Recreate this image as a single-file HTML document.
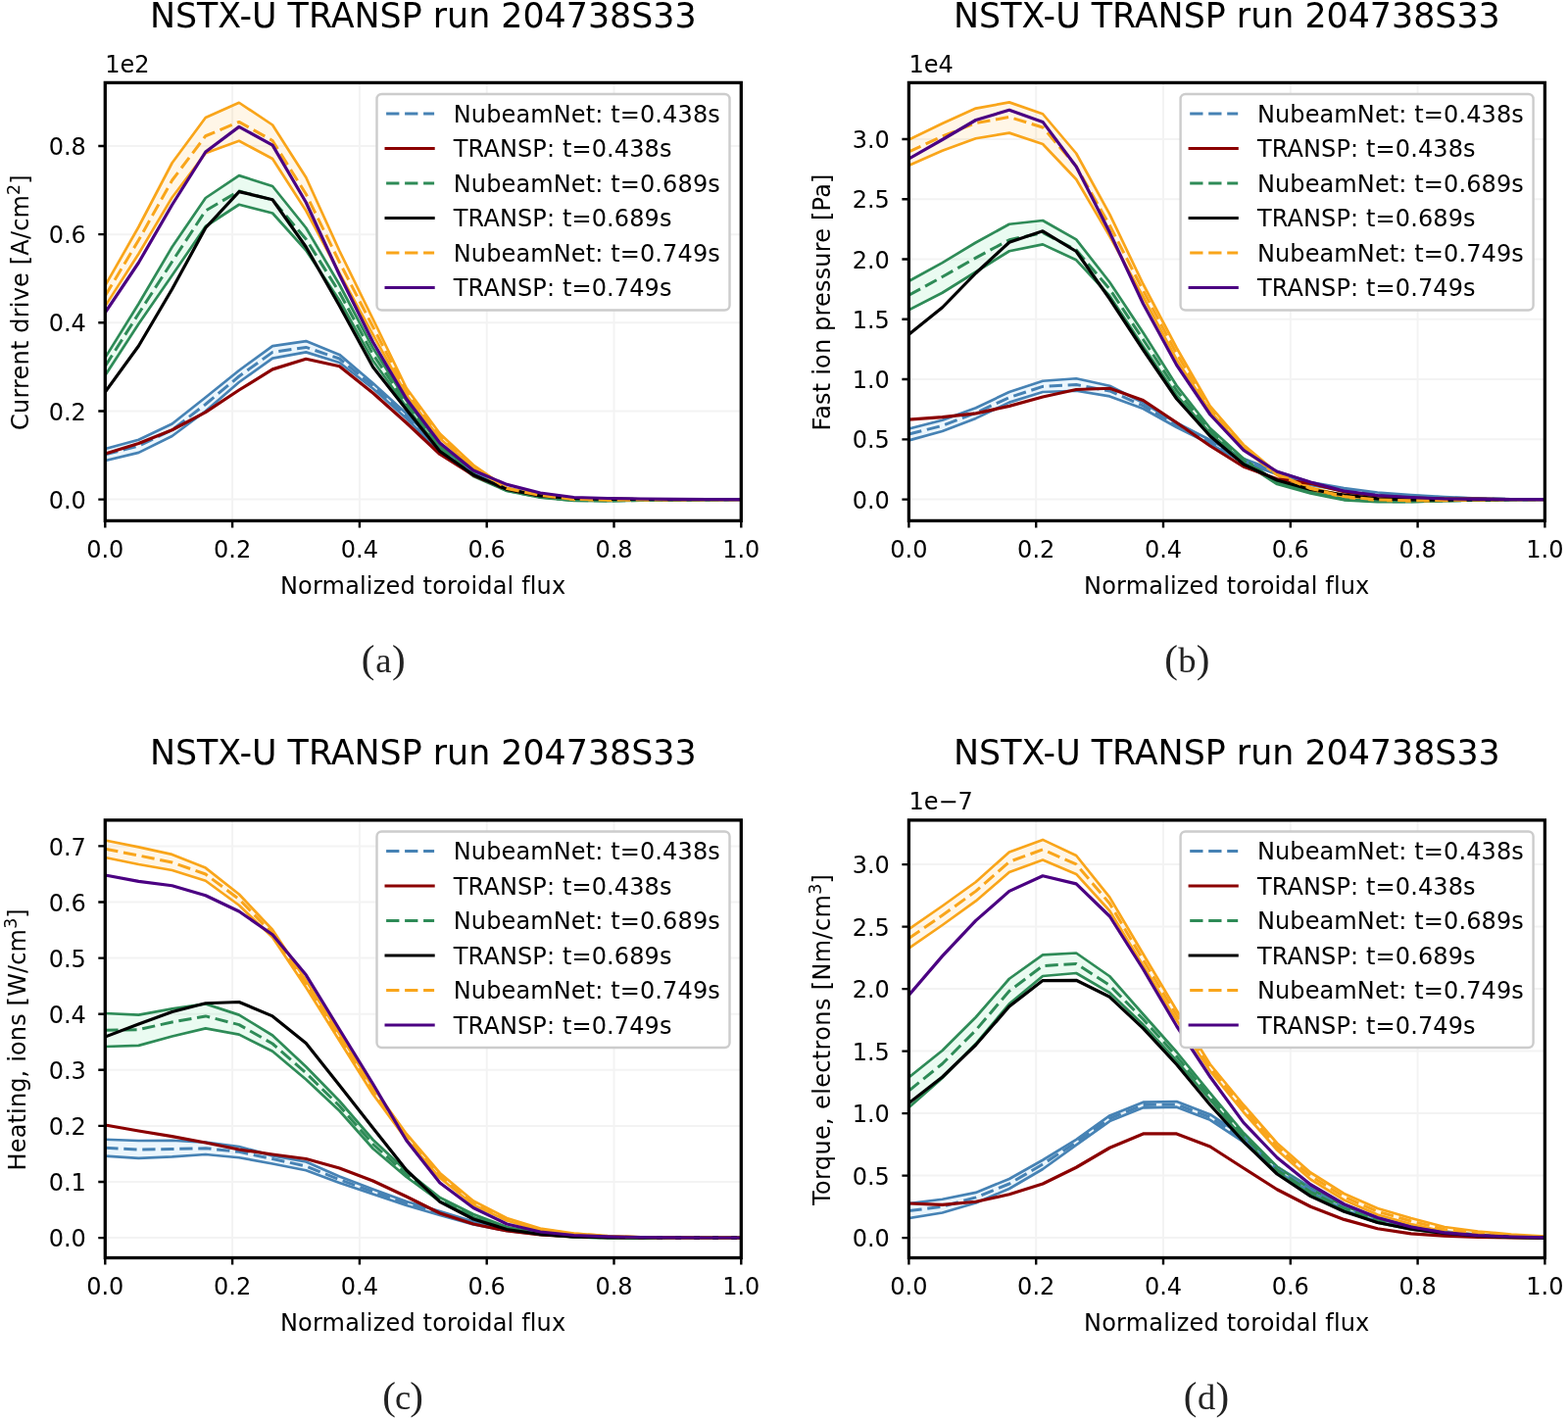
<!DOCTYPE html>
<html lang="en"><head><meta charset="utf-8"><title>NSTX-U TRANSP run 204738S33</title>
<style>
html,body{margin:0;padding:0;background:#fff;}
body{width:1600px;height:1449px;overflow:hidden;}
svg{display:block;}
svg text{font-family:"DejaVu Sans", "Liberation Sans", sans-serif;font-size:24px;fill:#000;font-variant-ligatures:none;font-feature-settings:"liga" 0,"clig" 0,"dlig" 0,"calt" 0;}
svg text.cap{font-family:"Liberation Serif","DejaVu Serif",serif;font-size:36.5px;fill:#222;}
svg text.cap .par{font-size:41px;}
</style></head><body>
<svg width="1600" height="1449" viewBox="0 0 1600 1449">
<rect width="1600" height="1449" fill="#fff"/>
<clipPath id="clip0"><rect x="107.30" y="84.40" width="649.00" height="447.00"/></clipPath>
<path d="M107.30 84.40V531.40M237.10 84.40V531.40M366.90 84.40V531.40M496.70 84.40V531.40M626.50 84.40V531.40M756.30 84.40V531.40M107.30 509.60H756.30M107.30 419.45H756.30M107.30 329.30H756.30M107.30 239.15H756.30M107.30 149.00H756.30" stroke="#f3f3f3" stroke-width="2.00" fill="none"/>
<g clip-path="url(#clip0)" fill="none" stroke-linejoin="round">
<polygon points="107.30,458.10 141.46,448.75 175.62,432.50 209.77,405.50 243.93,378.00 278.09,353.10 312.25,348.10 346.41,361.90 380.56,391.00 414.72,422.00 448.88,457.50 483.04,482.00 517.19,498.00 551.35,505.00 585.51,508.00 619.67,509.00 653.83,509.30 687.98,509.50 722.14,509.60 756.30,509.60 756.30,509.60 722.14,509.60 687.98,509.60 653.83,509.50 619.67,509.40 585.51,508.60 551.35,506.00 517.19,500.00 483.04,484.00 448.88,461.50 414.72,427.00 380.56,396.50 346.41,370.00 312.25,359.40 278.09,365.60 243.93,390.00 209.77,419.50 175.62,445.00 141.46,461.90 107.30,470.00" fill="rgb(70,170,240)" fill-opacity="0.11" stroke="none"/>
<polyline points="107.30,458.10 141.46,448.75 175.62,432.50 209.77,405.50 243.93,378.00 278.09,353.10 312.25,348.10 346.41,361.90 380.56,391.00 414.72,422.00 448.88,457.50 483.04,482.00 517.19,498.00 551.35,505.00 585.51,508.00 619.67,509.00 653.83,509.30 687.98,509.50 722.14,509.60 756.30,509.60" stroke="#4682b4" stroke-width="2.70" stroke-linecap="square"/>
<polyline points="107.30,470.00 141.46,461.90 175.62,445.00 209.77,419.50 243.93,390.00 278.09,365.60 312.25,359.40 346.41,370.00 380.56,396.50 414.72,427.00 448.88,461.50 483.04,484.00 517.19,500.00 551.35,506.00 585.51,508.60 619.67,509.40 653.83,509.50 687.98,509.60 722.14,509.60 756.30,509.60" stroke="#4682b4" stroke-width="2.70" stroke-linecap="square"/>
<polygon points="107.30,365.00 141.46,310.00 175.62,252.00 209.77,202.00 243.93,179.10 278.09,190.00 312.25,232.50 346.41,290.50 380.56,355.00 414.72,408.70 448.88,454.50 483.04,483.00 517.19,500.00 551.35,507.00 585.51,510.30 619.67,510.80 653.83,510.40 687.98,510.00 722.14,509.80 756.30,509.60 756.30,509.60 722.14,509.80 687.98,510.00 653.83,510.60 619.67,511.20 585.51,511.00 551.35,507.60 517.19,501.00 483.04,486.00 448.88,458.50 414.72,415.30 380.56,368.00 346.41,306.50 312.25,255.50 278.09,217.50 243.93,208.75 209.77,231.00 175.62,281.00 141.46,330.50 107.30,383.10" fill="rgb(60,220,130)" fill-opacity="0.11" stroke="none"/>
<polyline points="107.30,365.00 141.46,310.00 175.62,252.00 209.77,202.00 243.93,179.10 278.09,190.00 312.25,232.50 346.41,290.50 380.56,355.00 414.72,408.70 448.88,454.50 483.04,483.00 517.19,500.00 551.35,507.00 585.51,510.30 619.67,510.80 653.83,510.40 687.98,510.00 722.14,509.80 756.30,509.60" stroke="#2e8b57" stroke-width="2.70" stroke-linecap="square"/>
<polyline points="107.30,383.10 141.46,330.50 175.62,281.00 209.77,231.00 243.93,208.75 278.09,217.50 312.25,255.50 346.41,306.50 380.56,368.00 414.72,415.30 448.88,458.50 483.04,486.00 517.19,501.00 551.35,507.60 585.51,511.00 619.67,511.20 653.83,510.60 687.98,510.00 722.14,509.80 756.30,509.60" stroke="#2e8b57" stroke-width="2.70" stroke-linecap="square"/>
<polygon points="107.30,291.50 141.46,231.50 175.62,166.25 209.77,120.00 243.93,104.75 278.09,127.50 312.25,181.00 346.41,256.00 380.56,325.50 414.72,396.00 448.88,442.50 483.04,474.50 517.19,498.00 551.35,505.00 585.51,509.00 619.67,510.00 653.83,510.00 687.98,509.80 722.14,509.70 756.30,509.60 756.30,509.60 722.14,509.70 687.98,509.80 653.83,510.00 619.67,510.40 585.51,509.80 551.35,506.00 517.19,499.00 483.04,477.50 448.88,447.50 414.72,403.00 380.56,341.50 346.41,279.00 312.25,215.00 278.09,162.00 243.93,143.75 209.77,156.25 175.62,201.50 141.46,259.00 107.30,312.50" fill="rgb(255,170,40)" fill-opacity="0.11" stroke="none"/>
<polyline points="107.30,291.50 141.46,231.50 175.62,166.25 209.77,120.00 243.93,104.75 278.09,127.50 312.25,181.00 346.41,256.00 380.56,325.50 414.72,396.00 448.88,442.50 483.04,474.50 517.19,498.00 551.35,505.00 585.51,509.00 619.67,510.00 653.83,510.00 687.98,509.80 722.14,509.70 756.30,509.60" stroke="#f9a51a" stroke-width="2.70" stroke-linecap="square"/>
<polyline points="107.30,312.50 141.46,259.00 175.62,201.50 209.77,156.25 243.93,143.75 278.09,162.00 312.25,215.00 346.41,279.00 380.56,341.50 414.72,403.00 448.88,447.50 483.04,477.50 517.19,499.00 551.35,506.00 585.51,509.80 619.67,510.40 653.83,510.00 687.98,509.80 722.14,509.70 756.30,509.60" stroke="#f9a51a" stroke-width="2.70" stroke-linecap="square"/>
<polyline points="107.30,463.75 141.46,455.00 175.62,438.75 209.77,412.50 243.93,384.00 278.09,359.40 312.25,354.40 346.41,366.00 380.56,393.70 414.72,424.50 448.88,459.50 483.04,483.00 517.19,499.00 551.35,505.50 585.51,508.30 619.67,509.20 653.83,509.40 687.98,509.50 722.14,509.60 756.30,509.60" stroke="#4682b4" stroke-width="3.00" stroke-dasharray="13.30 5.70"/>
<polyline points="107.30,463.10 141.46,452.50 175.62,438.75 209.77,420.60 243.93,398.00 278.09,376.90 312.25,366.25 346.41,373.75 380.56,401.00 414.72,431.50 448.88,463.50 483.04,485.00 517.19,499.50 551.35,506.00 585.51,508.50 619.67,509.20 653.83,509.50 687.98,509.60 722.14,509.60 756.30,509.60" stroke="#8b0000" stroke-width="3.20" stroke-linecap="square"/>
<polyline points="107.30,373.75 141.46,320.00 175.62,267.00 209.77,215.00 243.93,195.00 278.09,204.00 312.25,244.00 346.41,298.50 380.56,361.50 414.72,412.00 448.88,456.50 483.04,484.50 517.19,500.50 551.35,507.30 585.51,510.60 619.67,511.00 653.83,510.50 687.98,510.00 722.14,509.80 756.30,509.60" stroke="#2e8b57" stroke-width="3.00" stroke-dasharray="13.30 5.70"/>
<polyline points="107.30,400.00 141.46,353.00 175.62,295.00 209.77,232.50 243.93,195.60 278.09,203.75 312.25,252.00 346.41,312.00 380.56,374.50 414.72,418.00 448.88,460.50 483.04,484.50 517.19,499.40 551.35,506.00 585.51,508.50 619.67,509.30 653.83,509.50 687.98,509.60 722.14,509.60 756.30,509.60" stroke="#000000" stroke-width="3.20" stroke-linecap="square"/>
<polyline points="107.30,302.00 141.46,245.00 175.62,184.00 209.77,138.75 243.93,124.40 278.09,143.50 312.25,198.00 346.41,267.50 380.56,333.50 414.72,399.50 448.88,445.00 483.04,476.00 517.19,498.50 551.35,505.50 585.51,509.40 619.67,510.20 653.83,510.00 687.98,509.80 722.14,509.70 756.30,509.60" stroke="#f9a51a" stroke-width="3.00" stroke-dasharray="13.30 5.70"/>
<polyline points="107.30,319.00 141.46,268.00 175.62,209.00 209.77,155.00 243.93,129.40 278.09,148.10 312.25,206.50 346.41,280.50 380.56,349.00 414.72,407.00 448.88,452.00 483.04,480.00 517.19,494.40 551.35,503.00 585.51,507.50 619.67,508.50 653.83,509.00 687.98,509.30 722.14,509.50 756.30,509.60" stroke="#4b0082" stroke-width="3.20" stroke-linecap="square"/>
</g>
<path d="M107.30 531.40v7.00M237.10 531.40v7.00M366.90 531.40v7.00M496.70 531.40v7.00M626.50 531.40v7.00M756.30 531.40v7.00M107.30 509.60h-7.00M107.30 419.45h-7.00M107.30 329.30h-7.00M107.30 239.15h-7.00M107.30 149.00h-7.00" stroke="#000" stroke-width="2.40" fill="none"/>
<rect x="107.30" y="84.40" width="649.00" height="447.00" fill="none" stroke="#000" stroke-width="3.30"/>
<text x="107.30" y="568.70" text-anchor="middle">0.0</text>
<text x="237.10" y="568.70" text-anchor="middle">0.2</text>
<text x="366.90" y="568.70" text-anchor="middle">0.4</text>
<text x="496.70" y="568.70" text-anchor="middle">0.6</text>
<text x="626.50" y="568.70" text-anchor="middle">0.8</text>
<text x="756.30" y="568.70" text-anchor="middle">1.0</text>
<text x="87.80" y="518.70" text-anchor="end">0.0</text>
<text x="87.80" y="428.55" text-anchor="end">0.2</text>
<text x="87.80" y="338.40" text-anchor="end">0.4</text>
<text x="87.80" y="248.25" text-anchor="end">0.6</text>
<text x="87.80" y="158.10" text-anchor="end">0.8</text>
<text x="107.30" y="73.70">1e2</text>
<text x="431.80" y="27.80" text-anchor="middle" style="font-size:34.85px">NSTX-U TRANSP run 204738S33</text>
<text x="431.70" y="605.50" text-anchor="middle" style="letter-spacing:0.17px">Normalized toroidal flux</text>
<text transform="translate(28.80,308.50) rotate(-90)" text-anchor="middle" style="letter-spacing:0.18px">Current drive [A/cm<tspan style="font-size:17.4px" dy="-9.1">2</tspan><tspan dy="9.1">]</tspan></text>
<rect x="384.50" y="96.00" width="360.00" height="220.50" rx="5" ry="5" fill="#fff" stroke="#cccccc" stroke-width="2.4"/>
<path d="M394.10 116.00H443.10" stroke="#4682b4" stroke-width="3.20" stroke-dasharray="13.30 5.70" fill="none"/>
<text x="462.80" y="124.60" style="letter-spacing:0.12px">NubeamNet: t=0.438s</text>
<path d="M394.10 151.50H442.10" stroke="#8b0000" stroke-width="3.20" stroke-linecap="square" fill="none"/>
<text x="462.80" y="160.10" style="letter-spacing:0.12px">TRANSP: t=0.438s</text>
<path d="M394.10 187.00H443.10" stroke="#2e8b57" stroke-width="3.20" stroke-dasharray="13.30 5.70" fill="none"/>
<text x="462.80" y="195.60" style="letter-spacing:0.12px">NubeamNet: t=0.689s</text>
<path d="M394.10 222.50H442.10" stroke="#000000" stroke-width="3.20" stroke-linecap="square" fill="none"/>
<text x="462.80" y="231.10" style="letter-spacing:0.12px">TRANSP: t=0.689s</text>
<path d="M394.10 258.00H443.10" stroke="#f9a51a" stroke-width="3.20" stroke-dasharray="13.30 5.70" fill="none"/>
<text x="462.80" y="266.60" style="letter-spacing:0.12px">NubeamNet: t=0.749s</text>
<path d="M394.10 293.50H442.10" stroke="#4b0082" stroke-width="3.20" stroke-linecap="square" fill="none"/>
<text x="462.80" y="302.10" style="letter-spacing:0.12px">TRANSP: t=0.749s</text>
<text class="cap" y="685.60"><tspan class="par" x="368.85" y="686.00">(</tspan><tspan x="391.25" y="685.60" text-anchor="middle">a</tspan><tspan class="par" x="400.05" y="686.00">)</tspan></text>
<clipPath id="clip1"><rect x="927.40" y="84.40" width="649.00" height="447.00"/></clipPath>
<path d="M927.40 84.40V531.40M1057.20 84.40V531.40M1187.00 84.40V531.40M1316.80 84.40V531.40M1446.60 84.40V531.40M1576.40 84.40V531.40M927.40 509.60H1576.40M927.40 448.33H1576.40M927.40 387.06H1576.40M927.40 325.79H1576.40M927.40 264.52H1576.40M927.40 203.25H1576.40M927.40 141.98H1576.40" stroke="#f3f3f3" stroke-width="2.00" fill="none"/>
<g clip-path="url(#clip1)" fill="none" stroke-linejoin="round">
<polygon points="927.40,437.50 961.56,428.75 995.72,416.25 1029.87,400.00 1064.03,388.75 1098.19,386.25 1132.35,393.75 1166.51,411.00 1200.66,431.50 1234.82,449.00 1268.98,468.00 1303.14,481.00 1337.29,492.00 1371.45,498.00 1405.61,502.50 1439.77,505.00 1473.93,507.00 1508.08,508.50 1542.24,509.30 1576.40,509.60 1576.40,509.60 1542.24,509.50 1508.08,509.10 1473.93,508.40 1439.77,507.00 1405.61,505.50 1371.45,501.00 1337.29,495.00 1303.14,484.00 1268.98,472.00 1234.82,453.00 1200.66,436.00 1166.51,417.00 1132.35,404.40 1098.19,398.75 1064.03,400.00 1029.87,410.60 995.72,426.90 961.56,440.00 927.40,449.40" fill="rgb(70,170,240)" fill-opacity="0.11" stroke="none"/>
<polyline points="927.40,437.50 961.56,428.75 995.72,416.25 1029.87,400.00 1064.03,388.75 1098.19,386.25 1132.35,393.75 1166.51,411.00 1200.66,431.50 1234.82,449.00 1268.98,468.00 1303.14,481.00 1337.29,492.00 1371.45,498.00 1405.61,502.50 1439.77,505.00 1473.93,507.00 1508.08,508.50 1542.24,509.30 1576.40,509.60" stroke="#4682b4" stroke-width="2.70" stroke-linecap="square"/>
<polyline points="927.40,449.40 961.56,440.00 995.72,426.90 1029.87,410.60 1064.03,400.00 1098.19,398.75 1132.35,404.40 1166.51,417.00 1200.66,436.00 1234.82,453.00 1268.98,472.00 1303.14,484.00 1337.29,495.00 1371.45,501.00 1405.61,505.50 1439.77,507.00 1473.93,508.40 1508.08,509.10 1542.24,509.50 1576.40,509.60" stroke="#4682b4" stroke-width="2.70" stroke-linecap="square"/>
<polygon points="927.40,286.90 961.56,268.10 995.72,247.50 1029.87,228.75 1064.03,225.00 1098.19,244.40 1132.35,288.00 1166.51,339.50 1200.66,393.50 1234.82,437.00 1268.98,468.00 1303.14,492.00 1337.29,501.50 1371.45,508.50 1405.61,510.80 1439.77,511.30 1473.93,510.80 1508.08,510.20 1542.24,509.80 1576.40,509.60 1576.40,509.60 1542.24,509.80 1508.08,510.40 1473.93,511.20 1439.77,512.20 1405.61,512.20 1371.45,510.30 1337.29,503.50 1303.14,494.00 1268.98,472.00 1234.82,442.00 1200.66,403.50 1166.51,353.50 1132.35,302.00 1098.19,265.30 1064.03,249.40 1029.87,256.25 995.72,277.50 961.56,298.75 927.40,316.25" fill="rgb(60,220,130)" fill-opacity="0.11" stroke="none"/>
<polyline points="927.40,286.90 961.56,268.10 995.72,247.50 1029.87,228.75 1064.03,225.00 1098.19,244.40 1132.35,288.00 1166.51,339.50 1200.66,393.50 1234.82,437.00 1268.98,468.00 1303.14,492.00 1337.29,501.50 1371.45,508.50 1405.61,510.80 1439.77,511.30 1473.93,510.80 1508.08,510.20 1542.24,509.80 1576.40,509.60" stroke="#2e8b57" stroke-width="2.70" stroke-linecap="square"/>
<polyline points="927.40,316.25 961.56,298.75 995.72,277.50 1029.87,256.25 1064.03,249.40 1098.19,265.30 1132.35,302.00 1166.51,353.50 1200.66,403.50 1234.82,442.00 1268.98,472.00 1303.14,494.00 1337.29,503.50 1371.45,510.30 1405.61,512.20 1439.77,512.20 1473.93,511.20 1508.08,510.40 1542.24,509.80 1576.40,509.60" stroke="#2e8b57" stroke-width="2.70" stroke-linecap="square"/>
<polygon points="927.40,142.50 961.56,126.00 995.72,110.60 1029.87,104.40 1064.03,116.25 1098.19,156.50 1132.35,218.60 1166.51,290.00 1200.66,355.00 1234.82,414.40 1268.98,454.00 1303.14,482.50 1337.29,497.50 1371.45,505.50 1405.61,509.30 1439.77,510.30 1473.93,510.20 1508.08,509.90 1542.24,509.70 1576.40,509.60 1576.40,509.60 1542.24,509.70 1508.08,510.10 1473.93,510.80 1439.77,511.30 1405.61,510.70 1371.45,507.50 1337.29,499.50 1303.14,485.00 1268.98,458.00 1234.82,419.60 1200.66,367.00 1166.51,303.00 1132.35,241.00 1098.19,183.00 1064.03,147.00 1029.87,135.60 995.72,141.25 961.56,153.75 927.40,168.75" fill="rgb(255,170,40)" fill-opacity="0.11" stroke="none"/>
<polyline points="927.40,142.50 961.56,126.00 995.72,110.60 1029.87,104.40 1064.03,116.25 1098.19,156.50 1132.35,218.60 1166.51,290.00 1200.66,355.00 1234.82,414.40 1268.98,454.00 1303.14,482.50 1337.29,497.50 1371.45,505.50 1405.61,509.30 1439.77,510.30 1473.93,510.20 1508.08,509.90 1542.24,509.70 1576.40,509.60" stroke="#f9a51a" stroke-width="2.70" stroke-linecap="square"/>
<polyline points="927.40,168.75 961.56,153.75 995.72,141.25 1029.87,135.60 1064.03,147.00 1098.19,183.00 1132.35,241.00 1166.51,303.00 1200.66,367.00 1234.82,419.60 1268.98,458.00 1303.14,485.00 1337.29,499.50 1371.45,507.50 1405.61,510.70 1439.77,511.30 1473.93,510.80 1508.08,510.10 1542.24,509.70 1576.40,509.60" stroke="#f9a51a" stroke-width="2.70" stroke-linecap="square"/>
<polyline points="927.40,443.00 961.56,434.40 995.72,421.25 1029.87,405.60 1064.03,394.40 1098.19,392.50 1132.35,399.00 1166.51,414.00 1200.66,433.75 1234.82,451.00 1268.98,470.00 1303.14,482.50 1337.29,493.50 1371.45,499.50 1405.61,504.00 1439.77,506.00 1473.93,507.70 1508.08,508.80 1542.24,509.40 1576.40,509.60" stroke="#4682b4" stroke-width="3.00" stroke-dasharray="13.30 5.70"/>
<polyline points="927.40,428.10 961.56,425.60 995.72,421.90 1029.87,414.40 1064.03,405.00 1098.19,397.50 1132.35,396.25 1166.51,408.50 1200.66,431.25 1234.82,455.00 1268.98,476.25 1303.14,488.75 1337.29,493.30 1371.45,501.80 1405.61,506.00 1439.77,508.00 1473.93,509.20 1508.08,509.20 1542.24,509.50 1576.40,509.60" stroke="#8b0000" stroke-width="3.20" stroke-linecap="square"/>
<polyline points="927.40,301.25 961.56,282.50 995.72,263.10 1029.87,244.70 1064.03,237.50 1098.19,255.00 1132.35,295.00 1166.51,346.50 1200.66,398.50 1234.82,439.50 1268.98,470.00 1303.14,493.00 1337.29,502.50 1371.45,509.50 1405.61,511.50 1439.77,511.80 1473.93,511.00 1508.08,510.30 1542.24,509.80 1576.40,509.60" stroke="#2e8b57" stroke-width="3.00" stroke-dasharray="13.30 5.70"/>
<polyline points="927.40,341.25 961.56,313.75 995.72,278.75 1029.87,247.20 1064.03,235.80 1098.19,256.50 1132.35,305.00 1166.51,357.00 1200.66,407.00 1234.82,445.00 1268.98,473.75 1303.14,490.00 1337.29,499.50 1371.45,505.00 1405.61,508.80 1439.77,510.00 1473.93,510.20 1508.08,509.90 1542.24,509.70 1576.40,509.60" stroke="#000000" stroke-width="3.20" stroke-linecap="square"/>
<polyline points="927.40,155.00 961.56,139.00 995.72,125.60 1029.87,119.40 1064.03,130.00 1098.19,169.75 1132.35,230.00 1166.51,296.50 1200.66,361.00 1234.82,417.00 1268.98,456.00 1303.14,483.75 1337.29,498.50 1371.45,506.50 1405.61,510.00 1439.77,510.80 1473.93,510.50 1508.08,510.00 1542.24,509.70 1576.40,509.60" stroke="#f9a51a" stroke-width="3.00" stroke-dasharray="13.30 5.70"/>
<polyline points="927.40,162.00 961.56,142.50 995.72,122.50 1029.87,112.25 1064.03,124.40 1098.19,170.00 1132.35,237.10 1166.51,310.00 1200.66,372.50 1234.82,423.00 1268.98,459.40 1303.14,481.25 1337.29,492.00 1371.45,501.00 1405.61,505.50 1439.77,507.50 1473.93,509.00 1508.08,509.40 1542.24,509.60 1576.40,509.60" stroke="#4b0082" stroke-width="3.20" stroke-linecap="square"/>
</g>
<path d="M927.40 531.40v7.00M1057.20 531.40v7.00M1187.00 531.40v7.00M1316.80 531.40v7.00M1446.60 531.40v7.00M1576.40 531.40v7.00M927.40 509.60h-7.00M927.40 448.33h-7.00M927.40 387.06h-7.00M927.40 325.79h-7.00M927.40 264.52h-7.00M927.40 203.25h-7.00M927.40 141.98h-7.00" stroke="#000" stroke-width="2.40" fill="none"/>
<rect x="927.40" y="84.40" width="649.00" height="447.00" fill="none" stroke="#000" stroke-width="3.30"/>
<text x="927.40" y="568.70" text-anchor="middle">0.0</text>
<text x="1057.20" y="568.70" text-anchor="middle">0.2</text>
<text x="1187.00" y="568.70" text-anchor="middle">0.4</text>
<text x="1316.80" y="568.70" text-anchor="middle">0.6</text>
<text x="1446.60" y="568.70" text-anchor="middle">0.8</text>
<text x="1576.40" y="568.70" text-anchor="middle">1.0</text>
<text x="907.90" y="518.70" text-anchor="end">0.0</text>
<text x="907.90" y="457.43" text-anchor="end">0.5</text>
<text x="907.90" y="396.16" text-anchor="end">1.0</text>
<text x="907.90" y="334.89" text-anchor="end">1.5</text>
<text x="907.90" y="273.62" text-anchor="end">2.0</text>
<text x="907.90" y="212.35" text-anchor="end">2.5</text>
<text x="907.90" y="151.08" text-anchor="end">3.0</text>
<text x="927.40" y="73.70">1e4</text>
<text x="1251.90" y="27.80" text-anchor="middle" style="font-size:34.85px">NSTX-U TRANSP run 204738S33</text>
<text x="1251.80" y="605.50" text-anchor="middle" style="letter-spacing:0.17px">Normalized toroidal flux</text>
<text transform="translate(846.60,308.50) rotate(-90)" text-anchor="middle" style="letter-spacing:0.18px">Fast ion pressure [Pa]</text>
<rect x="1204.60" y="96.00" width="360.00" height="220.50" rx="5" ry="5" fill="#fff" stroke="#cccccc" stroke-width="2.4"/>
<path d="M1214.20 116.00H1263.20" stroke="#4682b4" stroke-width="3.20" stroke-dasharray="13.30 5.70" fill="none"/>
<text x="1282.90" y="124.60" style="letter-spacing:0.12px">NubeamNet: t=0.438s</text>
<path d="M1214.20 151.50H1262.20" stroke="#8b0000" stroke-width="3.20" stroke-linecap="square" fill="none"/>
<text x="1282.90" y="160.10" style="letter-spacing:0.12px">TRANSP: t=0.438s</text>
<path d="M1214.20 187.00H1263.20" stroke="#2e8b57" stroke-width="3.20" stroke-dasharray="13.30 5.70" fill="none"/>
<text x="1282.90" y="195.60" style="letter-spacing:0.12px">NubeamNet: t=0.689s</text>
<path d="M1214.20 222.50H1262.20" stroke="#000000" stroke-width="3.20" stroke-linecap="square" fill="none"/>
<text x="1282.90" y="231.10" style="letter-spacing:0.12px">TRANSP: t=0.689s</text>
<path d="M1214.20 258.00H1263.20" stroke="#f9a51a" stroke-width="3.20" stroke-dasharray="13.30 5.70" fill="none"/>
<text x="1282.90" y="266.60" style="letter-spacing:0.12px">NubeamNet: t=0.749s</text>
<path d="M1214.20 293.50H1262.20" stroke="#4b0082" stroke-width="3.20" stroke-linecap="square" fill="none"/>
<text x="1282.90" y="302.10" style="letter-spacing:0.12px">TRANSP: t=0.749s</text>
<text class="cap" y="685.60"><tspan class="par" x="1188.20" y="686.00">(</tspan><tspan x="1211.25" y="685.60" text-anchor="middle">b</tspan><tspan class="par" x="1220.70" y="686.00">)</tspan></text>
<clipPath id="clip2"><rect x="107.30" y="836.90" width="649.00" height="446.60"/></clipPath>
<path d="M107.30 836.90V1283.50M237.10 836.90V1283.50M366.90 836.90V1283.50M496.70 836.90V1283.50M626.50 836.90V1283.50M756.30 836.90V1283.50M107.30 1263.10H756.30M107.30 1206.00H756.30M107.30 1148.90H756.30M107.30 1091.80H756.30M107.30 1034.70H756.30M107.30 977.60H756.30M107.30 920.50H756.30M107.30 863.40H756.30" stroke="#f3f3f3" stroke-width="2.00" fill="none"/>
<g clip-path="url(#clip2)" fill="none" stroke-linejoin="round">
<polygon points="107.30,1162.75 141.46,1164.00 175.62,1163.75 209.77,1165.60 243.93,1170.00 278.09,1179.40 312.25,1185.50 346.41,1200.50 380.56,1213.50 414.72,1226.00 448.88,1236.00 483.04,1246.50 517.19,1254.00 551.35,1258.50 585.51,1261.00 619.67,1262.20 653.83,1262.80 687.98,1263.00 722.14,1263.10 756.30,1263.10 756.30,1263.10 722.14,1263.10 687.98,1263.10 653.83,1263.00 619.67,1262.60 585.51,1261.80 551.35,1260.00 517.19,1256.00 483.04,1249.50 448.88,1240.00 414.72,1230.00 380.56,1218.50 346.41,1207.00 312.25,1194.30 278.09,1187.50 243.93,1181.25 209.77,1178.00 175.62,1180.40 141.46,1181.90 107.30,1179.70" fill="rgb(70,170,240)" fill-opacity="0.11" stroke="none"/>
<polyline points="107.30,1162.75 141.46,1164.00 175.62,1163.75 209.77,1165.60 243.93,1170.00 278.09,1179.40 312.25,1185.50 346.41,1200.50 380.56,1213.50 414.72,1226.00 448.88,1236.00 483.04,1246.50 517.19,1254.00 551.35,1258.50 585.51,1261.00 619.67,1262.20 653.83,1262.80 687.98,1263.00 722.14,1263.10 756.30,1263.10" stroke="#4682b4" stroke-width="2.70" stroke-linecap="square"/>
<polyline points="107.30,1179.70 141.46,1181.90 175.62,1180.40 209.77,1178.00 243.93,1181.25 278.09,1187.50 312.25,1194.30 346.41,1207.00 380.56,1218.50 414.72,1230.00 448.88,1240.00 483.04,1249.50 517.19,1256.00 551.35,1260.00 585.51,1261.80 619.67,1262.60 653.83,1263.00 687.98,1263.10 722.14,1263.10 756.30,1263.10" stroke="#4682b4" stroke-width="2.70" stroke-linecap="square"/>
<polygon points="107.30,1034.00 141.46,1035.60 175.62,1029.40 209.77,1024.40 243.93,1035.60 278.09,1056.50 312.25,1088.50 346.41,1123.50 380.56,1163.00 414.72,1195.00 448.88,1222.00 483.04,1239.00 517.19,1252.00 551.35,1258.50 585.51,1261.50 619.67,1262.50 653.83,1263.00 687.98,1263.20 722.14,1263.20 756.30,1263.10 756.30,1263.10 722.14,1263.20 687.98,1263.40 653.83,1263.50 619.67,1263.40 585.51,1262.50 551.35,1260.00 517.19,1254.00 483.04,1242.00 448.88,1226.00 414.72,1201.00 380.56,1172.00 346.41,1133.50 312.25,1101.50 278.09,1072.80 243.93,1055.60 209.77,1049.40 175.62,1057.50 141.46,1066.90 107.30,1068.00" fill="rgb(60,220,130)" fill-opacity="0.11" stroke="none"/>
<polyline points="107.30,1034.00 141.46,1035.60 175.62,1029.40 209.77,1024.40 243.93,1035.60 278.09,1056.50 312.25,1088.50 346.41,1123.50 380.56,1163.00 414.72,1195.00 448.88,1222.00 483.04,1239.00 517.19,1252.00 551.35,1258.50 585.51,1261.50 619.67,1262.50 653.83,1263.00 687.98,1263.20 722.14,1263.20 756.30,1263.10" stroke="#2e8b57" stroke-width="2.70" stroke-linecap="square"/>
<polyline points="107.30,1068.00 141.46,1066.90 175.62,1057.50 209.77,1049.40 243.93,1055.60 278.09,1072.80 312.25,1101.50 346.41,1133.50 380.56,1172.00 414.72,1201.00 448.88,1226.00 483.04,1242.00 517.19,1254.00 551.35,1260.00 585.51,1262.50 619.67,1263.40 653.83,1263.50 687.98,1263.40 722.14,1263.20 756.30,1263.10" stroke="#2e8b57" stroke-width="2.70" stroke-linecap="square"/>
<polygon points="107.30,857.50 141.46,864.40 175.62,871.90 209.77,885.60 243.93,912.50 278.09,948.75 312.25,1000.50 346.41,1055.00 380.56,1109.50 414.72,1157.00 448.88,1197.00 483.04,1225.50 517.19,1243.00 551.35,1253.50 585.51,1258.50 619.67,1261.00 653.83,1262.30 687.98,1262.80 722.14,1263.00 756.30,1263.00 756.30,1263.00 722.14,1263.00 687.98,1263.00 653.83,1262.60 619.67,1261.60 585.51,1259.70 551.35,1255.50 517.19,1245.50 483.04,1229.50 448.88,1202.00 414.72,1163.00 380.56,1116.50 346.41,1062.00 312.25,1007.50 278.09,956.50 243.93,923.75 209.77,898.75 175.62,888.00 141.46,882.00 107.30,875.00" fill="rgb(255,170,40)" fill-opacity="0.11" stroke="none"/>
<polyline points="107.30,857.50 141.46,864.40 175.62,871.90 209.77,885.60 243.93,912.50 278.09,948.75 312.25,1000.50 346.41,1055.00 380.56,1109.50 414.72,1157.00 448.88,1197.00 483.04,1225.50 517.19,1243.00 551.35,1253.50 585.51,1258.50 619.67,1261.00 653.83,1262.30 687.98,1262.80 722.14,1263.00 756.30,1263.00" stroke="#f9a51a" stroke-width="2.70" stroke-linecap="square"/>
<polyline points="107.30,875.00 141.46,882.00 175.62,888.00 209.77,898.75 243.93,923.75 278.09,956.50 312.25,1007.50 346.41,1062.00 380.56,1116.50 414.72,1163.00 448.88,1202.00 483.04,1229.50 517.19,1245.50 551.35,1255.50 585.51,1259.70 619.67,1261.60 653.83,1262.60 687.98,1263.00 722.14,1263.00 756.30,1263.00" stroke="#f9a51a" stroke-width="2.70" stroke-linecap="square"/>
<polyline points="107.30,1171.25 141.46,1173.00 175.62,1172.50 209.77,1171.70 243.93,1175.30 278.09,1182.50 312.25,1190.00 346.41,1203.75 380.56,1216.00 414.72,1228.00 448.88,1238.00 483.04,1248.00 517.19,1255.00 551.35,1259.20 585.51,1261.40 619.67,1262.40 653.83,1262.90 687.98,1263.00 722.14,1263.10 756.30,1263.10" stroke="#4682b4" stroke-width="3.00" stroke-dasharray="13.30 5.70"/>
<polyline points="107.30,1148.00 141.46,1154.00 175.62,1159.70 209.77,1166.00 243.93,1173.00 278.09,1178.00 312.25,1182.50 346.41,1192.00 380.56,1205.00 414.72,1221.00 448.88,1238.00 483.04,1249.00 517.19,1256.00 551.35,1260.00 585.51,1261.80 619.67,1262.60 653.83,1263.00 687.98,1263.10 722.14,1263.10 756.30,1263.10" stroke="#8b0000" stroke-width="3.20" stroke-linecap="square"/>
<polyline points="107.30,1051.25 141.46,1050.60 175.62,1043.00 209.77,1036.90 243.93,1045.60 278.09,1065.00 312.25,1095.00 346.41,1128.50 380.56,1167.50 414.72,1198.00 448.88,1224.00 483.04,1240.50 517.19,1253.00 551.35,1259.30 585.51,1262.00 619.67,1263.00 653.83,1263.30 687.98,1263.30 722.14,1263.20 756.30,1263.10" stroke="#2e8b57" stroke-width="3.00" stroke-dasharray="13.30 5.70"/>
<polyline points="107.30,1058.00 141.46,1045.00 175.62,1032.50 209.77,1023.75 243.93,1022.50 278.09,1036.90 312.25,1064.50 346.41,1107.50 380.56,1151.00 414.72,1194.00 448.88,1226.30 483.04,1244.00 517.19,1254.50 551.35,1259.50 585.51,1261.80 619.67,1262.60 653.83,1263.00 687.98,1263.00 722.14,1263.10 756.30,1263.10" stroke="#000000" stroke-width="3.20" stroke-linecap="square"/>
<polyline points="107.30,866.25 141.46,873.00 175.62,880.00 209.77,892.00 243.93,917.50 278.09,952.50 312.25,1004.00 346.41,1058.50 380.56,1113.00 414.72,1160.00 448.88,1199.50 483.04,1227.50 517.19,1244.00 551.35,1254.50 585.51,1259.00 619.67,1261.30 653.83,1262.50 687.98,1262.90 722.14,1263.00 756.30,1263.00" stroke="#f9a51a" stroke-width="3.00" stroke-dasharray="13.30 5.70"/>
<polyline points="107.30,893.00 141.46,899.40 175.62,903.75 209.77,913.75 243.93,930.00 278.09,953.75 312.25,994.80 346.41,1050.50 380.56,1106.00 414.72,1163.75 448.88,1207.00 483.04,1232.50 517.19,1249.00 551.35,1257.00 585.51,1260.50 619.67,1261.80 653.83,1262.50 687.98,1262.80 722.14,1263.00 756.30,1263.00" stroke="#4b0082" stroke-width="3.20" stroke-linecap="square"/>
</g>
<path d="M107.30 1283.50v7.00M237.10 1283.50v7.00M366.90 1283.50v7.00M496.70 1283.50v7.00M626.50 1283.50v7.00M756.30 1283.50v7.00M107.30 1263.10h-7.00M107.30 1206.00h-7.00M107.30 1148.90h-7.00M107.30 1091.80h-7.00M107.30 1034.70h-7.00M107.30 977.60h-7.00M107.30 920.50h-7.00M107.30 863.40h-7.00" stroke="#000" stroke-width="2.40" fill="none"/>
<rect x="107.30" y="836.90" width="649.00" height="446.60" fill="none" stroke="#000" stroke-width="3.30"/>
<text x="107.30" y="1321.20" text-anchor="middle">0.0</text>
<text x="237.10" y="1321.20" text-anchor="middle">0.2</text>
<text x="366.90" y="1321.20" text-anchor="middle">0.4</text>
<text x="496.70" y="1321.20" text-anchor="middle">0.6</text>
<text x="626.50" y="1321.20" text-anchor="middle">0.8</text>
<text x="756.30" y="1321.20" text-anchor="middle">1.0</text>
<text x="87.80" y="1272.20" text-anchor="end">0.0</text>
<text x="87.80" y="1215.10" text-anchor="end">0.1</text>
<text x="87.80" y="1158.00" text-anchor="end">0.2</text>
<text x="87.80" y="1100.90" text-anchor="end">0.3</text>
<text x="87.80" y="1043.80" text-anchor="end">0.4</text>
<text x="87.80" y="986.70" text-anchor="end">0.5</text>
<text x="87.80" y="929.60" text-anchor="end">0.6</text>
<text x="87.80" y="872.50" text-anchor="end">0.7</text>
<text x="431.80" y="780.30" text-anchor="middle" style="font-size:34.85px">NSTX-U TRANSP run 204738S33</text>
<text x="431.70" y="1358.00" text-anchor="middle" style="letter-spacing:0.17px">Normalized toroidal flux</text>
<text transform="translate(26.00,1060.80) rotate(-90)" text-anchor="middle" style="letter-spacing:0.15px">Heating, ions [W/cm<tspan style="font-size:17.4px" dy="-9.1">3</tspan><tspan dy="9.1">]</tspan></text>
<rect x="384.50" y="848.50" width="360.00" height="220.50" rx="5" ry="5" fill="#fff" stroke="#cccccc" stroke-width="2.4"/>
<path d="M394.10 868.50H443.10" stroke="#4682b4" stroke-width="3.20" stroke-dasharray="13.30 5.70" fill="none"/>
<text x="462.80" y="877.10" style="letter-spacing:0.12px">NubeamNet: t=0.438s</text>
<path d="M394.10 904.00H442.10" stroke="#8b0000" stroke-width="3.20" stroke-linecap="square" fill="none"/>
<text x="462.80" y="912.60" style="letter-spacing:0.12px">TRANSP: t=0.438s</text>
<path d="M394.10 939.50H443.10" stroke="#2e8b57" stroke-width="3.20" stroke-dasharray="13.30 5.70" fill="none"/>
<text x="462.80" y="948.10" style="letter-spacing:0.12px">NubeamNet: t=0.689s</text>
<path d="M394.10 975.00H442.10" stroke="#000000" stroke-width="3.20" stroke-linecap="square" fill="none"/>
<text x="462.80" y="983.60" style="letter-spacing:0.12px">TRANSP: t=0.689s</text>
<path d="M394.10 1010.50H443.10" stroke="#f9a51a" stroke-width="3.20" stroke-dasharray="13.30 5.70" fill="none"/>
<text x="462.80" y="1019.10" style="letter-spacing:0.12px">NubeamNet: t=0.749s</text>
<path d="M394.10 1046.00H442.10" stroke="#4b0082" stroke-width="3.20" stroke-linecap="square" fill="none"/>
<text x="462.80" y="1054.60" style="letter-spacing:0.12px">TRANSP: t=0.749s</text>
<text class="cap" y="1437.50"><tspan class="par" x="390.15" y="1437.90">(</tspan><tspan x="411.00" y="1437.50" text-anchor="middle">c</tspan><tspan class="par" x="418.25" y="1437.90">)</tspan></text>
<clipPath id="clip3"><rect x="927.40" y="836.90" width="649.00" height="446.60"/></clipPath>
<path d="M927.40 836.90V1283.50M1057.20 836.90V1283.50M1187.00 836.90V1283.50M1316.80 836.90V1283.50M1446.60 836.90V1283.50M1576.40 836.90V1283.50M927.40 1263.10H1576.40M927.40 1199.60H1576.40M927.40 1136.10H1576.40M927.40 1072.60H1576.40M927.40 1009.10H1576.40M927.40 945.60H1576.40M927.40 882.10H1576.40" stroke="#f3f3f3" stroke-width="2.00" fill="none"/>
<g clip-path="url(#clip3)" fill="none" stroke-linejoin="round">
<polygon points="927.40,1228.00 961.56,1223.75 995.72,1216.90 1029.87,1203.00 1064.03,1183.75 1098.19,1162.80 1132.35,1138.45 1166.51,1124.70 1200.66,1124.10 1234.82,1137.20 1268.98,1159.70 1303.14,1190.60 1337.29,1211.35 1371.45,1229.50 1405.61,1242.50 1439.77,1251.00 1473.93,1256.50 1508.08,1259.80 1542.24,1261.80 1576.40,1263.00 1576.40,1263.10 1542.24,1262.60 1508.08,1261.20 1473.93,1258.50 1439.77,1254.00 1405.61,1246.50 1371.45,1234.50 1337.29,1216.15 1303.14,1195.40 1268.98,1165.30 1234.82,1142.80 1200.66,1129.70 1166.51,1130.30 1132.35,1144.05 1098.19,1168.40 1064.03,1193.00 1029.87,1213.00 995.72,1227.50 961.56,1237.50 927.40,1243.00" fill="rgb(70,170,240)" fill-opacity="0.11" stroke="none"/>
<polyline points="927.40,1228.00 961.56,1223.75 995.72,1216.90 1029.87,1203.00 1064.03,1183.75 1098.19,1162.80 1132.35,1138.45 1166.51,1124.70 1200.66,1124.10 1234.82,1137.20 1268.98,1159.70 1303.14,1190.60 1337.29,1211.35 1371.45,1229.50 1405.61,1242.50 1439.77,1251.00 1473.93,1256.50 1508.08,1259.80 1542.24,1261.80 1576.40,1263.00" stroke="#4682b4" stroke-width="2.70" stroke-linecap="square"/>
<polyline points="927.40,1243.00 961.56,1237.50 995.72,1227.50 1029.87,1213.00 1064.03,1193.00 1098.19,1168.40 1132.35,1144.05 1166.51,1130.30 1200.66,1129.70 1234.82,1142.80 1268.98,1165.30 1303.14,1195.40 1337.29,1216.15 1371.45,1234.50 1405.61,1246.50 1439.77,1254.00 1473.93,1258.50 1508.08,1261.20 1542.24,1262.60 1576.40,1263.10" stroke="#4682b4" stroke-width="2.70" stroke-linecap="square"/>
<polygon points="927.40,1099.40 961.56,1072.00 995.72,1038.00 1029.87,998.75 1064.03,974.40 1098.19,972.50 1132.35,996.25 1166.51,1035.00 1200.66,1073.50 1234.82,1115.30 1268.98,1156.00 1303.14,1190.50 1337.29,1213.50 1371.45,1230.50 1405.61,1243.50 1439.77,1251.50 1473.93,1257.00 1508.08,1260.00 1542.24,1262.00 1576.40,1263.00 1576.40,1263.10 1542.24,1262.80 1508.08,1261.50 1473.93,1259.00 1439.77,1254.50 1405.61,1247.70 1371.45,1235.50 1337.29,1219.00 1303.14,1197.00 1268.98,1162.00 1234.82,1122.30 1200.66,1082.50 1166.51,1045.60 1132.35,1013.00 1098.19,993.00 1064.03,996.00 1029.87,1024.40 995.72,1065.00 961.56,1100.00 927.40,1130.00" fill="rgb(60,220,130)" fill-opacity="0.11" stroke="none"/>
<polyline points="927.40,1099.40 961.56,1072.00 995.72,1038.00 1029.87,998.75 1064.03,974.40 1098.19,972.50 1132.35,996.25 1166.51,1035.00 1200.66,1073.50 1234.82,1115.30 1268.98,1156.00 1303.14,1190.50 1337.29,1213.50 1371.45,1230.50 1405.61,1243.50 1439.77,1251.50 1473.93,1257.00 1508.08,1260.00 1542.24,1262.00 1576.40,1263.00" stroke="#2e8b57" stroke-width="2.70" stroke-linecap="square"/>
<polyline points="927.40,1130.00 961.56,1100.00 995.72,1065.00 1029.87,1024.40 1064.03,996.00 1098.19,993.00 1132.35,1013.00 1166.51,1045.60 1200.66,1082.50 1234.82,1122.30 1268.98,1162.00 1303.14,1197.00 1337.29,1219.00 1371.45,1235.50 1405.61,1247.70 1439.77,1254.50 1473.93,1259.00 1508.08,1261.50 1542.24,1262.80 1576.40,1263.10" stroke="#2e8b57" stroke-width="2.70" stroke-linecap="square"/>
<polygon points="927.40,948.00 961.56,924.50 995.72,900.00 1029.87,869.40 1064.03,856.90 1098.19,873.00 1132.35,915.60 1166.51,973.50 1200.66,1031.00 1234.82,1086.00 1268.98,1127.50 1303.14,1166.50 1337.29,1196.50 1371.45,1218.00 1405.61,1233.00 1439.77,1243.00 1473.93,1252.00 1508.08,1256.50 1542.24,1259.50 1576.40,1261.50 1576.40,1263.00 1542.24,1261.80 1508.08,1260.00 1473.93,1256.80 1439.77,1249.00 1405.61,1239.50 1371.45,1224.50 1337.29,1203.50 1303.14,1173.50 1268.98,1135.00 1234.82,1093.00 1200.66,1041.00 1166.51,985.50 1132.35,929.50 1098.19,891.90 1064.03,877.50 1029.87,890.00 995.72,919.40 961.56,944.00 927.40,967.50" fill="rgb(255,170,40)" fill-opacity="0.11" stroke="none"/>
<polyline points="927.40,948.00 961.56,924.50 995.72,900.00 1029.87,869.40 1064.03,856.90 1098.19,873.00 1132.35,915.60 1166.51,973.50 1200.66,1031.00 1234.82,1086.00 1268.98,1127.50 1303.14,1166.50 1337.29,1196.50 1371.45,1218.00 1405.61,1233.00 1439.77,1243.00 1473.93,1252.00 1508.08,1256.50 1542.24,1259.50 1576.40,1261.50" stroke="#f9a51a" stroke-width="2.70" stroke-linecap="square"/>
<polyline points="927.40,967.50 961.56,944.00 995.72,919.40 1029.87,890.00 1064.03,877.50 1098.19,891.90 1132.35,929.50 1166.51,985.50 1200.66,1041.00 1234.82,1093.00 1268.98,1135.00 1303.14,1173.50 1337.29,1203.50 1371.45,1224.50 1405.61,1239.50 1439.77,1249.00 1473.93,1256.80 1508.08,1260.00 1542.24,1261.80 1576.40,1263.00" stroke="#f9a51a" stroke-width="2.70" stroke-linecap="square"/>
<polyline points="927.40,1235.60 961.56,1231.25 995.72,1221.90 1029.87,1208.00 1064.03,1188.00 1098.19,1165.60 1132.35,1141.25 1166.51,1127.50 1200.66,1126.90 1234.82,1140.00 1268.98,1162.50 1303.14,1193.00 1337.29,1213.75 1371.45,1232.00 1405.61,1244.50 1439.77,1252.50 1473.93,1257.50 1508.08,1260.50 1542.24,1262.20 1576.40,1263.10" stroke="#4682b4" stroke-width="3.00" stroke-dasharray="13.30 5.70"/>
<polyline points="927.40,1228.00 961.56,1229.40 995.72,1226.25 1029.87,1218.75 1064.03,1208.00 1098.19,1191.25 1132.35,1171.25 1166.51,1156.90 1200.66,1156.90 1234.82,1170.00 1268.98,1192.00 1303.14,1213.75 1337.29,1231.25 1371.45,1244.40 1405.61,1253.75 1439.77,1258.80 1473.93,1261.20 1508.08,1262.30 1542.24,1262.80 1576.40,1263.10" stroke="#8b0000" stroke-width="3.20" stroke-linecap="square"/>
<polyline points="927.40,1113.00 961.56,1085.50 995.72,1051.25 1029.87,1011.25 1064.03,985.60 1098.19,983.40 1132.35,1005.50 1166.51,1040.00 1200.66,1078.00 1234.82,1118.75 1268.98,1159.00 1303.14,1193.75 1337.29,1216.25 1371.45,1233.00 1405.61,1245.60 1439.77,1253.00 1473.93,1258.00 1508.08,1260.80 1542.24,1262.40 1576.40,1263.10" stroke="#2e8b57" stroke-width="3.00" stroke-dasharray="13.30 5.70"/>
<polyline points="927.40,1125.60 961.56,1099.00 995.72,1066.25 1029.87,1027.00 1064.03,1000.60 1098.19,1000.30 1132.35,1017.30 1166.51,1049.40 1200.66,1086.25 1234.82,1127.50 1268.98,1165.00 1303.14,1198.00 1337.29,1220.60 1371.45,1236.25 1405.61,1247.50 1439.77,1254.20 1473.93,1258.50 1508.08,1261.00 1542.24,1262.50 1576.40,1263.10" stroke="#000000" stroke-width="3.20" stroke-linecap="square"/>
<polyline points="927.40,957.50 961.56,934.00 995.72,909.40 1029.87,879.40 1064.03,866.90 1098.19,881.90 1132.35,922.00 1166.51,979.50 1200.66,1036.00 1234.82,1089.50 1268.98,1131.25 1303.14,1170.00 1337.29,1200.00 1371.45,1221.25 1405.61,1236.25 1439.77,1246.00 1473.93,1254.40 1508.08,1258.40 1542.24,1260.60 1576.40,1262.30" stroke="#f9a51a" stroke-width="3.00" stroke-dasharray="13.30 5.70"/>
<polyline points="927.40,1015.50 961.56,975.60 995.72,939.40 1029.87,909.40 1064.03,893.75 1098.19,901.90 1132.35,935.00 1166.51,989.00 1200.66,1047.00 1234.82,1098.75 1268.98,1145.60 1303.14,1181.25 1337.29,1208.75 1371.45,1228.75 1405.61,1242.50 1439.77,1252.00 1473.93,1257.80 1508.08,1260.60 1542.24,1262.00 1576.40,1262.90" stroke="#4b0082" stroke-width="3.20" stroke-linecap="square"/>
</g>
<path d="M927.40 1283.50v7.00M1057.20 1283.50v7.00M1187.00 1283.50v7.00M1316.80 1283.50v7.00M1446.60 1283.50v7.00M1576.40 1283.50v7.00M927.40 1263.10h-7.00M927.40 1199.60h-7.00M927.40 1136.10h-7.00M927.40 1072.60h-7.00M927.40 1009.10h-7.00M927.40 945.60h-7.00M927.40 882.10h-7.00" stroke="#000" stroke-width="2.40" fill="none"/>
<rect x="927.40" y="836.90" width="649.00" height="446.60" fill="none" stroke="#000" stroke-width="3.30"/>
<text x="927.40" y="1321.20" text-anchor="middle">0.0</text>
<text x="1057.20" y="1321.20" text-anchor="middle">0.2</text>
<text x="1187.00" y="1321.20" text-anchor="middle">0.4</text>
<text x="1316.80" y="1321.20" text-anchor="middle">0.6</text>
<text x="1446.60" y="1321.20" text-anchor="middle">0.8</text>
<text x="1576.40" y="1321.20" text-anchor="middle">1.0</text>
<text x="907.90" y="1272.20" text-anchor="end">0.0</text>
<text x="907.90" y="1208.70" text-anchor="end">0.5</text>
<text x="907.90" y="1145.20" text-anchor="end">1.0</text>
<text x="907.90" y="1081.70" text-anchor="end">1.5</text>
<text x="907.90" y="1018.20" text-anchor="end">2.0</text>
<text x="907.90" y="954.70" text-anchor="end">2.5</text>
<text x="907.90" y="891.20" text-anchor="end">3.0</text>
<text x="927.40" y="826.20">1e−7</text>
<text x="1251.90" y="780.30" text-anchor="middle" style="font-size:34.85px">NSTX-U TRANSP run 204738S33</text>
<text x="1251.80" y="1358.00" text-anchor="middle" style="letter-spacing:0.17px">Normalized toroidal flux</text>
<text transform="translate(846.80,1060.80) rotate(-90)" text-anchor="middle" style="letter-spacing:0.35px">Torque, electrons [Nm/cm<tspan style="font-size:17.4px" dy="-9.1">3</tspan><tspan dy="9.1">]</tspan></text>
<rect x="1204.60" y="848.50" width="360.00" height="220.50" rx="5" ry="5" fill="#fff" stroke="#cccccc" stroke-width="2.4"/>
<path d="M1214.20 868.50H1263.20" stroke="#4682b4" stroke-width="3.20" stroke-dasharray="13.30 5.70" fill="none"/>
<text x="1282.90" y="877.10" style="letter-spacing:0.12px">NubeamNet: t=0.438s</text>
<path d="M1214.20 904.00H1262.20" stroke="#8b0000" stroke-width="3.20" stroke-linecap="square" fill="none"/>
<text x="1282.90" y="912.60" style="letter-spacing:0.12px">TRANSP: t=0.438s</text>
<path d="M1214.20 939.50H1263.20" stroke="#2e8b57" stroke-width="3.20" stroke-dasharray="13.30 5.70" fill="none"/>
<text x="1282.90" y="948.10" style="letter-spacing:0.12px">NubeamNet: t=0.689s</text>
<path d="M1214.20 975.00H1262.20" stroke="#000000" stroke-width="3.20" stroke-linecap="square" fill="none"/>
<text x="1282.90" y="983.60" style="letter-spacing:0.12px">TRANSP: t=0.689s</text>
<path d="M1214.20 1010.50H1263.20" stroke="#f9a51a" stroke-width="3.20" stroke-dasharray="13.30 5.70" fill="none"/>
<text x="1282.90" y="1019.10" style="letter-spacing:0.12px">NubeamNet: t=0.749s</text>
<path d="M1214.20 1046.00H1262.20" stroke="#4b0082" stroke-width="3.20" stroke-linecap="square" fill="none"/>
<text x="1282.90" y="1054.60" style="letter-spacing:0.12px">TRANSP: t=0.749s</text>
<text class="cap" y="1437.50"><tspan class="par" x="1207.80" y="1437.90">(</tspan><tspan x="1231.00" y="1437.50" text-anchor="middle">d</tspan><tspan class="par" x="1240.60" y="1437.90">)</tspan></text>
</svg>
</body></html>
